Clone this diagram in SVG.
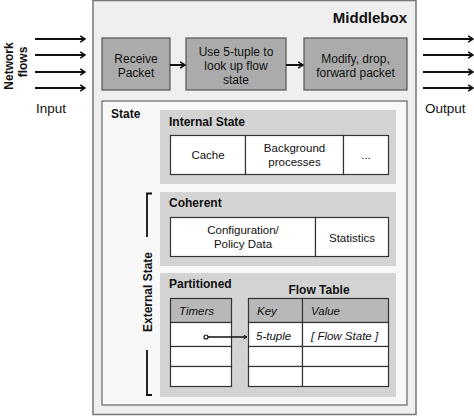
<svg xmlns="http://www.w3.org/2000/svg" width="474" height="416" viewBox="0 0 474 416">
<defs>
<marker id="ah" viewBox="0 0 10 10" refX="9" refY="5" markerWidth="5" markerHeight="5" orient="auto" markerUnits="userSpaceOnUse">
<path d="M2,1 L9,5 L2,9" fill="none" stroke="#111" stroke-width="2"/>
</marker>
<marker id="ah2" viewBox="0 0 10 10" refX="9" refY="5" markerWidth="8" markerHeight="8" orient="auto" markerUnits="userSpaceOnUse">
<path d="M3,1 L9,5 L3,9" fill="none" stroke="#111" stroke-width="2"/>
</marker>
</defs>
<style>
text{font-family:"Liberation Sans",Arial,sans-serif;fill:#111}
.h{font-weight:bold;font-size:12px}
.p{font-size:12px;text-anchor:middle}
.c{font-size:11.5px;text-anchor:middle}
.i{font-size:11.5px;font-style:italic}
.proc{fill:#ababab;stroke:#555;stroke-width:1.2}
.panel{fill:#d3d3d3}
.cell{fill:#fff;stroke:#333;stroke-width:1.2}
.hdr{fill:#b8b8b8;stroke:#333;stroke-width:1.2}
.flow{stroke:#111;stroke-width:2;fill:none}
.lbl{font-size:13.5px}
</style>
<g id="middlebox">
<rect x="93" y="0.5" width="323" height="414" fill="#efefef" stroke="#777" stroke-width="1.5"/>
<text x="407" y="23" style="font-size:15px;font-weight:bold" text-anchor="end">Middlebox</text>
</g>
<g id="receive">
<rect class="proc" x="102" y="38" width="68" height="52"/>
<text class="p" x="136" y="63">Receive</text>
<text class="p" x="136" y="77">Packet</text>
</g>
<g id="lookup">
<rect class="proc" x="186" y="38" width="100" height="52"/>
<text class="p" x="236" y="56">Use 5-tuple to</text>
<text class="p" x="236" y="70">look up flow</text>
<text class="p" x="236" y="84">state</text>
</g>
<g id="modify">
<rect class="proc" x="304" y="38" width="103" height="52"/>
<text class="p" x="355.5" y="63">Modify, drop,</text>
<text class="p" x="355.5" y="77">forward packet</text>
</g>
<g id="state">
<rect x="102" y="101" width="305" height="304" fill="#f8f8f8" stroke="#666" stroke-width="1.2"/>
<text class="h" x="111" y="118">State</text>
</g>
<g id="internal-state">
<rect class="panel" x="160" y="110" width="236" height="74"/>
<text class="h" x="169" y="126">Internal State</text>
<rect class="cell" x="170.5" y="135.5" width="75" height="39"/>
<rect class="cell" x="245.5" y="135.5" width="98" height="39"/>
<rect class="cell" x="343.5" y="135.5" width="45" height="39"/>
<text class="c" x="208" y="159">Cache</text>
<text class="c" x="294.5" y="152">Background</text>
<text class="c" x="294.5" y="166">processes</text>
<text class="c" x="366" y="159">...</text>
</g>
<g id="coherent">
<rect class="panel" x="160" y="192" width="236" height="74"/>
<text class="h" x="169" y="207">Coherent</text>
<rect class="cell" x="170.5" y="217.5" width="145" height="39"/>
<rect class="cell" x="315.5" y="217.5" width="73" height="39"/>
<text class="c" x="243" y="234">Configuration/</text>
<text class="c" x="243" y="248">Policy Data</text>
<text class="c" x="352" y="242">Statistics</text>
</g>
<g id="partitioned">
<rect class="panel" x="160" y="273" width="236" height="124"/>
<text class="h" x="169" y="288">Partitioned</text>
<text class="h" x="319" y="294" text-anchor="middle">Flow Table</text>
</g>
<g id="timers">
<rect class="hdr" x="170.5" y="298.5" width="61" height="24"/>
<rect class="cell" x="170.5" y="322.5" width="61" height="24"/>
<rect class="cell" x="170.5" y="346.5" width="61" height="20"/>
<rect class="cell" x="170.5" y="366.5" width="61" height="20"/>
<text class="i" x="179" y="315">Timers</text>
</g>
<g id="flow-table">
<rect class="hdr" x="248.5" y="298.5" width="54" height="24"/>
<rect class="hdr" x="302.5" y="298.5" width="86" height="24"/>
<rect class="cell" x="248.5" y="322.5" width="54" height="24"/>
<rect class="cell" x="302.5" y="322.5" width="86" height="24"/>
<rect class="cell" x="248.5" y="346.5" width="54" height="20"/>
<rect class="cell" x="302.5" y="346.5" width="86" height="20"/>
<rect class="cell" x="248.5" y="366.5" width="54" height="20"/>
<rect class="cell" x="302.5" y="366.5" width="86" height="20"/>
<text class="i" x="257" y="315">Key</text>
<text class="i" x="311" y="315">Value</text>
<text class="i" x="256" y="340">5-tuple</text>
<text class="i" x="311" y="340">[ Flow State ]</text>
</g>
<g id="external-state">
<path d="M152,193.5 H147 V237 M147,350 V395 H152" fill="none" stroke="#111" stroke-width="1.8"/>
<text class="h" transform="translate(152,292) rotate(-90)" text-anchor="middle">External State</text>
</g>
<g id="input">
<text class="h" transform="translate(13,66) rotate(-90)" text-anchor="middle">Network</text>
<text class="h" transform="translate(27,62) rotate(-90)" text-anchor="middle">flows</text>
<text class="lbl" x="36" y="113">Input</text>
</g>
<g id="output">
<text class="lbl" x="425" y="113">Output</text>
</g>
<g id="connectors">
<line class="flow" x1="35" y1="39" x2="85" y2="39" marker-end="url(#ah2)"/>
<line class="flow" x1="35" y1="55" x2="85" y2="55" marker-end="url(#ah2)"/>
<line class="flow" x1="35" y1="72" x2="85" y2="72" marker-end="url(#ah2)"/>
<line class="flow" x1="35" y1="88" x2="85" y2="88" marker-end="url(#ah2)"/>
<line class="flow" x1="423" y1="39" x2="473" y2="39" marker-end="url(#ah2)"/>
<line class="flow" x1="423" y1="55" x2="473" y2="55" marker-end="url(#ah2)"/>
<line class="flow" x1="423" y1="72" x2="473" y2="72" marker-end="url(#ah2)"/>
<line class="flow" x1="423" y1="88" x2="473" y2="88" marker-end="url(#ah2)"/>
<line class="flow" x1="170" y1="65" x2="185" y2="65" marker-end="url(#ah2)"/>
<line class="flow" x1="286" y1="65" x2="303" y2="65" marker-end="url(#ah2)"/>
<circle cx="206" cy="337" r="2" fill="#fff" stroke="#111" stroke-width="1.2"/>
<line x1="208" y1="337" x2="247" y2="337" stroke="#111" stroke-width="1.5" marker-end="url(#ah)"/>
</g>
</svg>
